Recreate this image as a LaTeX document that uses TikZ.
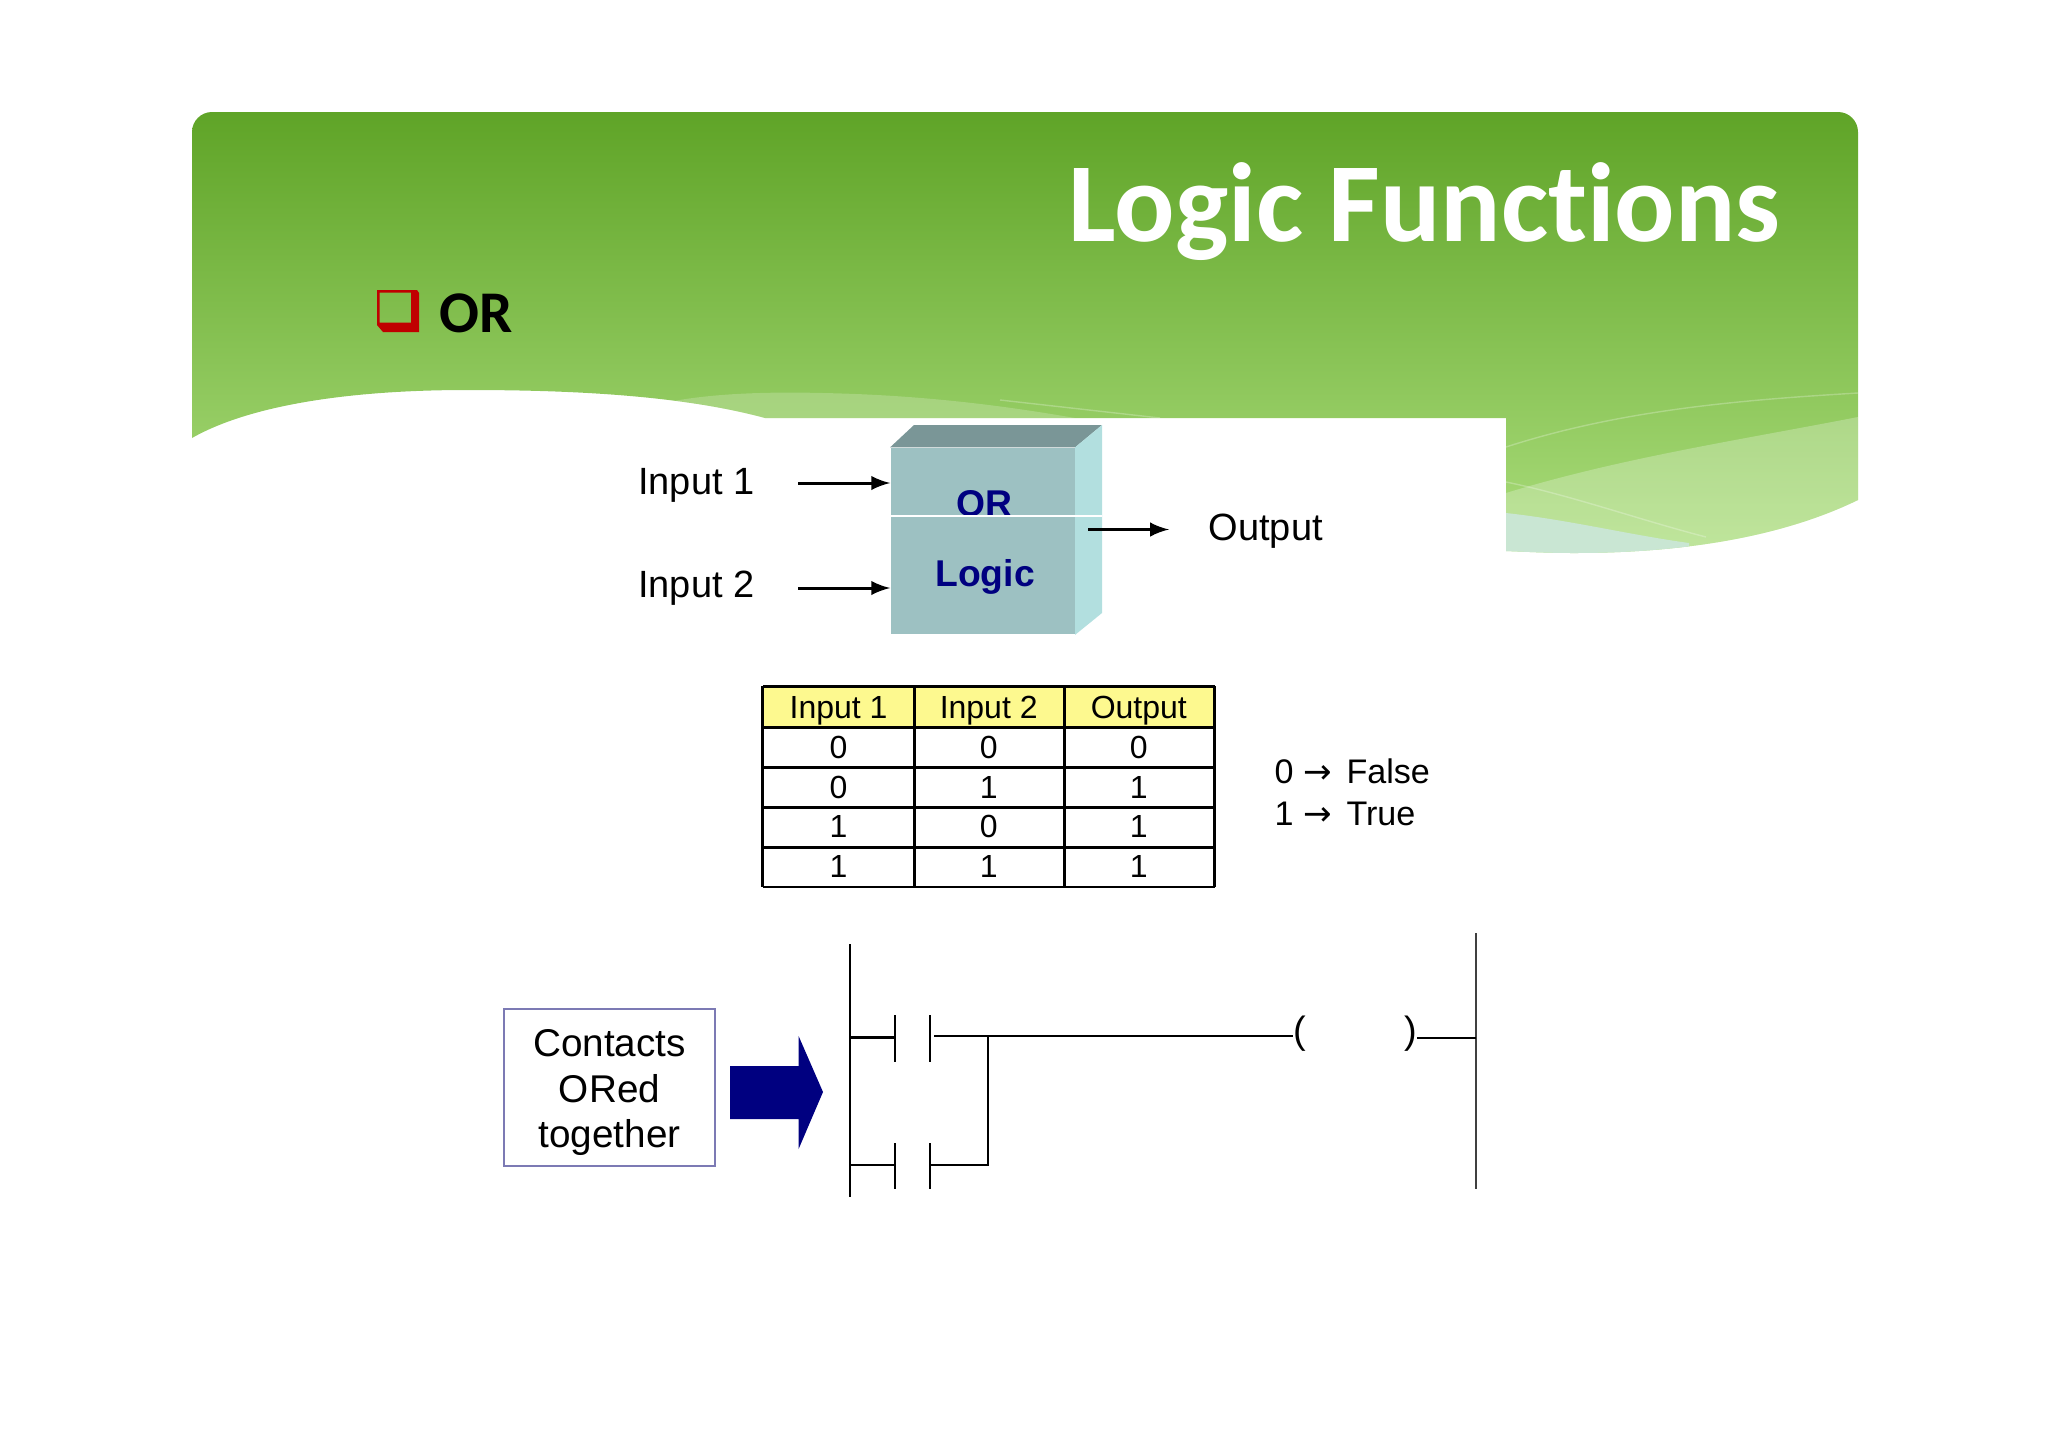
\documentclass[tikz,border=0pt]{standalone}
\usepackage{fontspec}
\usepackage{xcolor}
\usepackage{tikz}
\usetikzlibrary{calc, positioning}
\setmainfont{Liberation Sans}
\newfontfamily\titlefont[Ligatures=NoCommon]{Carlito}
\newfontfamily\arrowfont{DejaVu Sans}

\definecolor{bannertop}{HTML}{5FA427}
\definecolor{bannerlow}{HTML}{ABDD7C}
\definecolor{bandpale}{HTML}{C9E6D3}
\definecolor{cubefront}{HTML}{9DC1C2}
\definecolor{cubetop}{HTML}{7A9697}
\definecolor{cubeside}{HTML}{B2DFDF}
\definecolor{headyellow}{HTML}{FDF98F}
\definecolor{boxline}{HTML}{7C7AB4}
\definecolor{deepblue}{HTML}{000080}
\definecolor{bulletred}{HTML}{C00000}

\newcommand{\bannerpath}{(192,438) -- (192,132) arc (180:270:20) -- (1838,112) arc (-90:0:20) -- (1858,500)
  .. controls (1780,538) and (1680,553) .. (1574,553) .. controls (1550,553) and (1530,552) .. (1506,551)
  -- (1506,418) -- (765,418) .. controls (680,395) and (570,390) .. (467,390) .. controls (350,390) and (250,405) .. (192,438) -- cycle}

\begin{document}
\begin{tikzpicture}[x=0.01cm,y=-0.01cm,
                    label node/.style={anchor=base west,inner sep=0pt,font=\fontsize{10.8pt}{13pt}\selectfont},
                    block word/.style={inner sep=0pt,text=deepblue,font=\fontsize{10.6pt}{13pt}\selectfont\bfseries},
                    flow/.style={-latex,line width=0.85pt},
                    cell/.style={minimum width=1.5cm,minimum height=0.398cm,inner sep=0pt,text height=0.23cm,text depth=0pt,
                                 font=\fontsize{9.1pt}{11pt}\selectfont},
                    head cell/.style={cell,fill=headyellow},
                    grid line/.style={line width=0.9pt},
                    rung/.style={line width=0.6pt},
                    rail/.style={line width=0.7pt},
                    key node/.style={anchor=base west,inner sep=0pt,font=\fontsize{9.7pt}{11pt}\selectfont},
                    node distance=1.5cm]

 \useasboundingbox (0,0) rectangle (2048,1448);

 % banner
 \shade[top color=bannertop,bottom color=bannerlow] \bannerpath;
 \begin{scope}
  \clip \bannerpath;
  \fill[white,opacity=0.2] (668,402) .. controls (720,392) and (780,392) .. (823,393)
      .. controls (920,395) and (1000,405) .. (1075,418) -- (765,418) -- cycle;
  \fill[white,opacity=0.25] (1506,493) .. controls (1620,458) and (1740,440) .. (1858,417) -- (1858,560) -- (1506,560) -- cycle;
  \fill[bandpale] (1506,513) .. controls (1570,520) and (1630,535) .. (1689,543) -- (1689,560) -- (1506,560) -- cycle;
  \draw[white,opacity=0.25,line width=0.4pt] (1506,447) .. controls (1620,410) and (1740,400) .. (1858,393);
  \draw[white,opacity=0.25,line width=0.4pt] (1506,482) .. controls (1570,495) and (1640,520) .. (1706,537);
  \draw[white,opacity=0.25,line width=0.4pt] (1000,400) -- (1160,418);
 \end{scope}

 \node[anchor=base west,inner sep=0pt,text=white,font=\fontsize{32pt}{38pt}\selectfont\titlefont\bfseries] (title) at (1068,241) {Logic Functions};

 % bullet
 \fill[bulletred,even odd rule] (377,290) -- (417,290) -- (419,293) -- (419,332) -- (383,332) -- (377,325) -- cycle
      (379.5,292.5) -- (411,292.5) -- (411,322.5) -- (379.5,322.5) -- cycle;
 \node[anchor=base west,inner sep=0pt,font=\fontsize{16.8pt}{20pt}\selectfont\titlefont\bfseries] (ortext) at (439,332) {OR};

 % logic block
 \node[fill=cubefront,minimum width=1.835cm,minimum height=1.86cm,inner sep=0pt] (front) at (982.7,541) {};
 \fill[cubetop] (front.north west) -- (914,425) -- (1102,425) -- (front.north east) -- cycle;
 \fill[cubeside] (front.north east) -- (1102,425) -- (1102,613) -- (front.south east) -- cycle;
 \node[block word,anchor=base] (orword) at (984,516) {OR};
 \node[block word,anchor=base] (logicword) at (985,586) {Logic};
 \draw[white,line width=0.5pt] (front.west |- 0,516) -- (1102,516);

 \node[label node] (input1) at (637.5,494) {Input 1};
 \node[label node] (input2) at (637.5,597) {Input 2};
 \node[label node] (output) at (1208,540) {Output};
 \coordinate (tail1) at (798,483);
 \coordinate (tail2) at (798,588);
 \coordinate (tail3) at (1088,529.5);
 \coordinate (tip3) at (1169,529.5);

 \draw[flow] (tail1) -- (tail1 -| front.west);
 \draw[flow] (tail2) -- (tail2 -| front.west);
 \draw[flow] (tail3) -- (tip3);

 % truth table
 \node[head cell] (a1) at (838.6,707) {Input 1};
 \node[head cell] (a2) [right of=a1] {Input 2};
 \node[head cell] (a3) [right of=a2] {Output};

 \begin{scope}[node distance=0.398cm]
 \node[cell] (b1) [below of=a1] {0};
 \node[cell] (b2) [below of=a2] {0};
 \node[cell] (b3) [below of=a3] {0};
 \node[cell] (c1) [below of=b1] {0};
 \node[cell] (c2) [below of=b2] {1};
 \node[cell] (c3) [below of=b3] {1};
 \node[cell] (d1) [below of=c1] {1};
 \node[cell] (d2) [below of=c2] {0};
 \node[cell] (d3) [below of=c3] {1};
 \node[cell] (e1) [below of=d1] {1};
 \node[cell] (e2) [below of=d2] {1};
 \node[cell] (e3) [below of=d3] {1};
 \end{scope}

 \draw[grid line]
  (a1.north west) -- (a3.north east)
  (a1.south west) -- (a3.south east)
  (b1.south west) -- (b3.south east)
  (c1.south west) -- (c3.south east)
  (d1.south west) -- (d3.south east);
 \draw[line width=0.5pt] (e1.south west) -- (e3.south east);
 \draw[grid line]
  (a1.north west) -- (e1.south west)
  (a1.north east) -- (e1.south east)
  (a2.north east) -- (e2.south east)
  (a3.north east) -- (e3.south east);

 \node[key node] (falsekey) at (1274,783) {0 {\arrowfont →}\hspace{1.5pt} False};
 \node[key node] (truekey) at (1274,825) {1 {\arrowfont →}\hspace{1.5pt} True};

 % contacts box and block arrow
 \node[draw=boxline,line width=0.8pt,minimum width=2.11cm,minimum height=1.57cm,inner sep=0pt] (contacts) at (609.5,1087.5) {};
 \node[inner sep=0pt,align=center,font=\fontsize{11pt}{12.9pt}\selectfont] (contactstext) at (609.5,1092.5) {Contacts\\ORed\\together};
 \fill[deepblue] (730,1066) -- (798.6,1066) -- (798.6,1036) -- (823,1092) -- (798.6,1149) -- (798.6,1119) -- (730,1119) -- cycle;

 % ladder rung
 \coordinate (railL1) at (850,944);
 \coordinate (railL2) at (850,1197);
 \coordinate (railR1) at (1476,933);
 \coordinate (railR2) at (1476,1189);
 \coordinate (p1) at (895,1037.5);
 \coordinate (p2) at (930,1037.5);
 \coordinate (p3) at (895,1165);
 \coordinate (p4) at (930,1165);
 \coordinate (join) at (988,1036);

 \draw[rail] (railL1) -- (railL2);
 \draw[rail,black!75] (railR1) -- (railR2);

 \draw[rung] (p1 |- 0,1015) -- (p1 |- 0,1062);
 \draw[rung] (p2 |- 0,1015) -- (p2 |- 0,1062);
 \draw[rung] (p3 |- 0,1143) -- (p3 |- 0,1189);
 \draw[rung] (p4 |- 0,1143) -- (p4 |- 0,1189);

 \node[inner sep=0pt,font=\fontsize{10.8pt}{13pt}\selectfont] (coilL) at (1300,1034) {(};
 \node[inner sep=0pt,font=\fontsize{10.8pt}{13pt}\selectfont] (coilR) at (1411,1034) {)};

 \draw[rung] (p1 -| railL1) -- (p1);
 \draw[rung] (p3 -| railL1) -- (p3);
 \draw[rung] (934,1036) -- (join) -- (coilL.west |- join);
 \draw[rung] (p4) -- (p4 -| join) -- (join);
 \draw[rung] (1417,1038) -- (1417,1038 -| railR1);

\end{tikzpicture}
\end{document}
